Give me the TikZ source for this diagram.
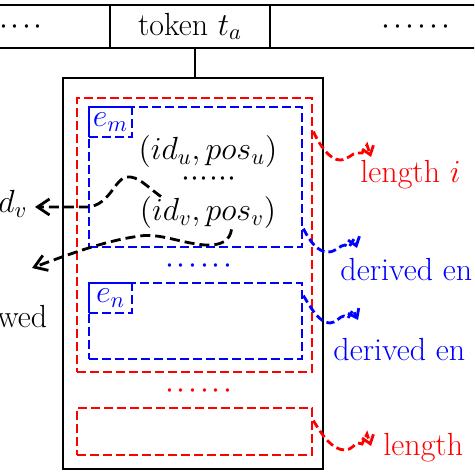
\RequirePackage{fix-cm}
\documentclass[tikz,border=0pt]{standalone}
\usepackage{fontspec}
\usetikzlibrary{arrows.meta,fit}
\newcommand\dd[1]{\mathord{\cdot}\kern#1}
\begin{document}
\begin{tikzpicture}[x=0.5pt,y=-0.5pt,
  font=\fontsize{16}{19}\selectfont,
  frame/.style={draw=black, line width=0.9pt, inner sep=0pt},
  redbox/.style={draw=red, line width=1.4pt, dash pattern=on 4.5pt off 2pt, inner sep=0pt},
  bluebox/.style={draw=blue, line width=1.4pt, dash pattern=on 4.5pt off 2pt, inner sep=0pt},
  txt/.style={inner sep=0pt},
  blackarrow/.style={draw=black, line width=1.4pt, dash pattern=on 5pt off 2.5pt,
     -{Straight Barb[length=6pt,width=8pt]}},
  curly/.style={line width=1.4pt, dash pattern=on 4pt off 2pt,
     -{Straight Barb[length=4pt,width=6pt]}},
]
\useasboundingbox (0,0) rectangle (474,474);
\clip (0,0) rectangle (474,474);

% top row
\node[frame, minimum width=85pt, minimum height=21.5pt] (lcell) at (25,26.5) {};
\node[frame, minimum width=80pt, minimum height=21.5pt] (tok) at (190,26.5) {token $t_a$};
\node[frame, minimum width=125pt, minimum height=21.5pt] (rcell) at (395,26.5) {};
\node[txt, anchor=base] (ldots) at (21,35) {$\dd{1.4pt}\dd{1.4pt}\dd{1.4pt}\cdot$};
\node[txt, anchor=base] (rdots) at (416,35) {$\dd{1.6pt}\dd{1.6pt}\dd{1.6pt}\dd{1.6pt}\dd{1.6pt}\cdot$};

% big box
\node[frame, fit={(63,78) (323,469)}] (big) {};
\draw[line width=0.9pt] ([xshift=2.5pt]tok.south) -- ([xshift=2.5pt]tok.south |- big.north);

% red and blue boxes
\node[redbox, fit={(77,98) (312,372)}] (rA) {};
\node[bluebox, fit={(89,107) (302,247)}] (bm) {};
\node[bluebox, text=blue, minimum width=21.5pt, minimum height=15pt] (bml) at (110.5,122) {$e_m$};
\node[bluebox, fit={(89,283) (302,359)}] (bn) {};
\node[bluebox, text=blue, minimum width=21.5pt, minimum height=15pt] (bnl) at (110.5,298) {$e_n$};
\node[redbox, fit={(77,408) (312,455)}] (rB) {};

% texts inside
\node[txt] (idu) at (208,152) {$(id_u,pos_u)$};
\node[txt, anchor=base] (mdots) at (209,187) {\smash{$\dd{0.2pt}\dd{0.2pt}\dd{0.2pt}\dd{0.2pt}\dd{0.2pt}\cdot$}};
\node[txt] (idv) at (208,213) {$(id_v,pos_v)$};
\node[txt, anchor=base, text=blue] (bdots) at (199,274) {$\dd{1.4pt}\dd{1.4pt}\dd{1.4pt}\dd{1.4pt}\dd{1.4pt}\cdot$};
\node[txt, anchor=base, text=red] (rdots) at (199,398) {$\dd{1.4pt}\dd{1.4pt}\dd{1.4pt}\dd{1.4pt}\dd{1.4pt}\cdot$};

% left labels (cut by the page edge)
\node[txt, anchor=base west] (dv) at (-2,213) {$d_v$};
\node[txt, anchor=base west] (wed) at (-3,328) {wed};

% black arrows
\coordinate (tipA) at (35,207);
\coordinate (tipB) at (32,268);
\draw[blackarrow] ([xshift=10.75pt]idv.north west) .. controls (145,185) and (138,176) .. (127,177)
   .. controls (115,178) and (110,205) .. (88,207) -- (tipA);
\draw[blackarrow] ([xshift=-22.5pt]idv.south east) .. controls (230,240) and (222,246) .. (205,245)
   .. controls (180,243) and (160,233) .. (140,236) .. controls (110,240) and (80,250) .. (tipB);

% right labels
\node[txt, anchor=base west, text=red] (lenA) at (360,183) {length $i$};
\node[txt, anchor=base west, text=blue] (derA) at (340,281) {derived en};
\node[txt, anchor=base west, text=blue] (derB) at (333,360) {derived en};
\node[txt, anchor=base west, text=red] (lenB) at (383,455) {length};

% curly arrows
\coordinate (r1e) at (371,157);
\coordinate (b1e) at (357,248);
\coordinate (b2e) at (358,320);
\coordinate (r2e) at (371,446);
\draw[curly, red] ([yshift=-17.5pt]rA.north east) .. controls (320,146) and (330,160) .. (340,160)
   .. controls (348,160) and (352,153) .. (357,153) -- (362,153) -- (367,145) -- (r1e);
\draw[curly, blue] ([yshift=-61.5pt]bm.north east) .. controls (310,242) and (318,252) .. (328,252)
   .. controls (336,252) and (340,245) .. (345,245) -- (349,247) -- (354,239) -- (b1e);
\draw[curly, blue] ([yshift=-7pt]bn.north east) .. controls (312,310) and (320,323) .. (330,323)
   .. controls (336,323) and (340,316) .. (344,316) -- (348,318) -- (353,310) -- (b2e);
\draw[curly, red] ([yshift=-7pt]rB.north east) .. controls (322,435) and (332,450) .. (345,450)
   .. controls (352,450) and (355,443) .. (358,443) -- (362,444) -- (367,434) -- (r2e);
\end{tikzpicture}
\end{document}
